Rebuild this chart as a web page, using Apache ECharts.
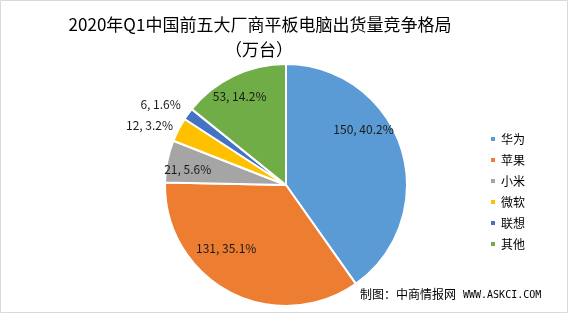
<!DOCTYPE html>
<html>
<head>
<meta charset="UTF-8">
<title>平板电脑出货量</title>
<script src="https://cdn.jsdelivr.net/npm/echarts@6/dist/echarts.min.js"></script>
<style>
  html, body { margin: 0; padding: 0; background: #fff; }
  #main { width: 569px; height: 314px; }
</style>
</head>
<body>
<div id="main"></div>
<script>
// 厂商与出货量（万台）
var vendors = ['华为', '苹果', '小米', '微软', '联想', '其他'];
var shipments = [150, 131, 21, 12, 6, 53];
var colors = ['#5B9BD5', '#ED7D31', '#A5A5A5', '#FFC000', '#4472C4', '#70AD47'];
// 标签微调（相对扇区中点）
var labelOffsets = [[17, -36], [-30, 7], [-36, -3], [-80, -30], [-74, -43], [-19, -31]];

var chart = echarts.init(document.getElementById('main'));

var pieData = vendors.map(function (name, i) {
  return {
    name: name,
    value: shipments[i],
    itemStyle: { color: colors[i] },
    label: { offset: labelOffsets[i] }
  };
});

var titleFont = {
  fontSize: 17,
  fill: '#000',
  fontFamily: 'Noto Sans CJK SC'
};

var option = {
  backgroundColor: '#fff',
  animation: false,
  legend: {
    orient: 'vertical',
    left: 484,
    top: 128,
    icon: 'rect',
    itemWidth: 6,
    itemHeight: 6,
    itemGap: 9,
    data: vendors,
    textStyle: { fontSize: 12, color: '#000', fontFamily: 'Noto Sans CJK SC' }
  },
  series: [{
    type: 'pie',
    center: [286, 185],
    radius: [0, 121],
    startAngle: 90,
    clockwise: true,
    itemStyle: { borderColor: '#fff', borderWidth: 2 },
    label: {
      position: 'inside',
      formatter: function (p) { return p.value + ', ' + p.percent.toFixed(1) + '%'; },
      fontSize: 12,
      color: '#1a1a1a',
      fontFamily: 'Noto Sans CJK SC'
    },
    labelLine: { show: false },
    emphasis: { disabled: true },
    data: pieData
  }],
  graphic: [
    {
      type: 'rect',
      shape: { x: 0.5, y: 0.5, width: 567, height: 312 },
      style: { fill: 'none', stroke: '#d9d9d9', lineWidth: 1 },
      silent: true
    },
    {
      type: 'text',
      x: 260,
      y: 25,
      style: Object.assign({
        text: '2020年Q1中国前五大厂商平板电脑出货量竞争格局',
        align: 'center',
        verticalAlign: 'middle'
      }, titleFont)
    },
    {
      type: 'text',
      x: 259,
      y: 50,
      style: Object.assign({
        text: '（万台）',
        align: 'center',
        verticalAlign: 'middle'
      }, titleFont)
    },
    {
      type: 'text',
      left: 360,
      top: 288,
      style: {
        text: '制图：中商情报网',
        fontSize: 12,
        fill: '#000',
        fontFamily: 'Noto Sans CJK SC'
      }
    },
    {
      type: 'text',
      left: 463,
      top: 290,
      style: {
        text: 'WWW.ASKCI.COM',
        fontSize: 10,
        fill: '#000',
        fontFamily: 'DejaVu Sans Mono'
      }
    }
  ]
};

chart.setOption(option);
</script>
</body>
</html>
